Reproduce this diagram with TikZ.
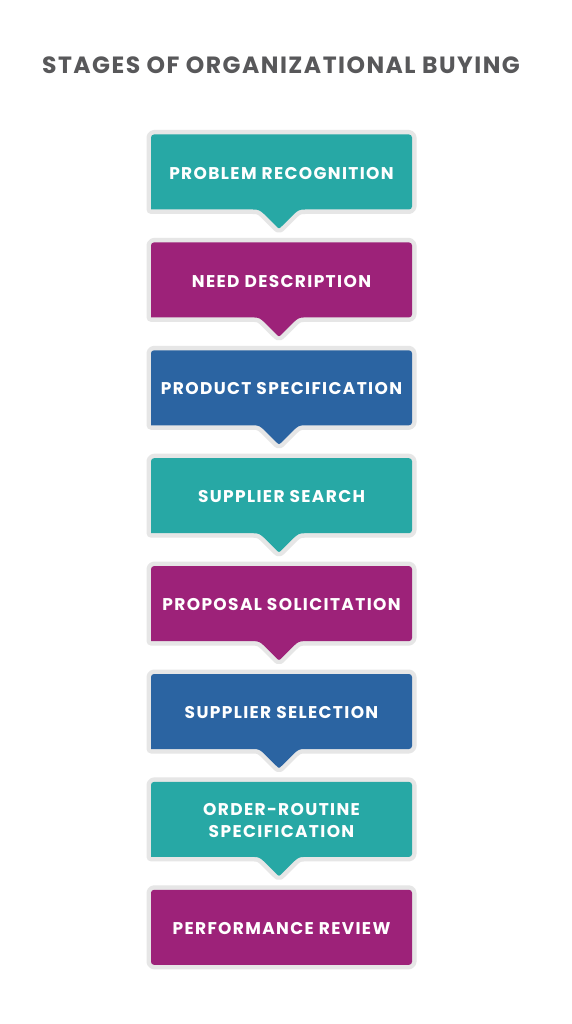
\documentclass[tikz,border=0pt]{standalone}
\usepackage{fontspec}
\setmainfont{Poppins}
\newfontfamily\titlefont[LetterSpace=6.3]{Poppins}
\newfontfamily\boxfont[LetterSpace=8]{Poppins}
\definecolor{teal1}{HTML}{27A8A5}
\definecolor{mag1}{HTML}{9D2279}
\definecolor{blue1}{HTML}{2B64A2}
\definecolor{rim}{HTML}{E6E6E6}
\definecolor{titlegray}{HTML}{58585A}
\begin{document}
\begin{tikzpicture}[x=1pt,y=-1pt,
  stagetext/.style={text=white,font=\boxfont\bfseries\fontsize{17}{22}\selectfont,align=center,inner sep=0pt},
  titletext/.style={text=titlegray,font=\titlefont\bfseries\fontsize{23.5}{28}\selectfont,inner sep=0pt},
  rimline/.style={draw=rim,line width=9pt,line join=round}]
\useasboundingbox (0,0) rectangle (572,1024);
\fill[white] (0,0) rectangle (572,1024);
\node[titletext] (title) at (281,65) {STAGES OF ORGANIZATIONAL BUYING};
\def\c{279}
\foreach \i/\col/\ptr/\txt in {
  1/teal1/1/{PROBLEM RECOGNITION},
  2/mag1/1/{NEED DESCRIPTION},
  3/blue1/1/{PRODUCT SPECIFICATION},
  4/teal1/1/{SUPPLIER SEARCH},
  5/mag1/1/{PROPOSAL SOLICITATION},
  6/blue1/1/{SUPPLIER SELECTION},
  7/teal1/1/{ORDER-ROUTINE\\SPECIFICATION},
  8/mag1/0/{PERFORMANCE REVIEW}}{
  \pgfmathsetmacro{\T}{134.5+107.9*(\i-1)}
  \pgfmathsetmacro{\B}{\T+75}
  \pgfmathsetmacro{\M}{\T+38.7}
  \ifnum\ptr=1
    \def\stagepath{(151,\B) [rounded corners=3pt] -- (151,\T) -- (412,\T) -- (412,\B) [sharp corners] -- (\c+26,\B)
      .. controls (\c+20,\B) and (\c+19,\B+1) .. (\c+15,\B+4.5) -- (\c+3,\B+16.5)
      .. controls (\c,\B+19.5) .. (\c-3,\B+16.5) -- (\c-15,\B+4.5)
      .. controls (\c-19,\B+1) and (\c-20,\B) .. (\c-26,\B) -- cycle}
  \else
    \def\stagepath{[rounded corners=3pt] (151,\T) rectangle (412,\B)}
  \fi
  \path[rimline] \stagepath;
  \path[fill=\col] \stagepath;
  \node[stagetext] (s\i) at (281.5,\M) {\txt};
}
\end{tikzpicture}
\end{document}
